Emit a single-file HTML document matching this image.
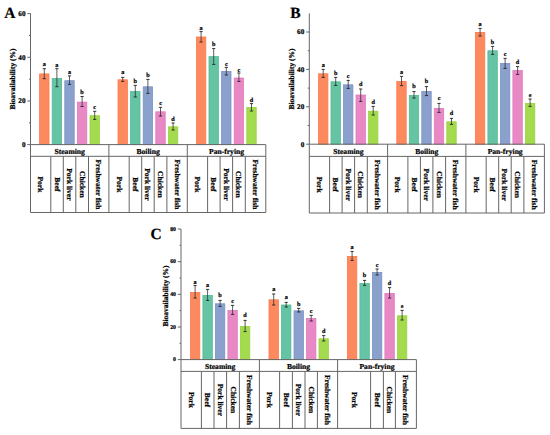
<!DOCTYPE html>
<html><head><meta charset="utf-8"><style>
html,body{margin:0;padding:0;background:#fff;}
body{width:550px;height:435px;overflow:hidden;}
svg{display:block;}
text{font-family:"Liberation Serif", serif;font-weight:bold;fill:#000;stroke:#000;stroke-width:0.22px;text-rendering:geometricPrecision;}
</style></head><body>
<svg width="550" height="435" viewBox="0 0 550 435">
<rect width="550" height="435" fill="#fff"/>
<text x="9.8" y="13.2" font-size="15.5" text-anchor="middle" dominant-baseline="central">A</text>
<line x1="30.5" y1="13.6" x2="30.5" y2="144.6" stroke="#666" stroke-width="1"/>
<line x1="27.3" y1="13.6" x2="30.5" y2="13.6" stroke="#666" stroke-width="1"/>
<text x="25.5" y="14" font-size="7.2" text-anchor="end" dominant-baseline="central">60</text>
<line x1="27.3" y1="57.3" x2="30.5" y2="57.3" stroke="#666" stroke-width="1"/>
<text x="25.5" y="57.7" font-size="7.2" text-anchor="end" dominant-baseline="central">40</text>
<line x1="27.3" y1="101" x2="30.5" y2="101" stroke="#666" stroke-width="1"/>
<text x="25.5" y="101.4" font-size="7.2" text-anchor="end" dominant-baseline="central">20</text>
<line x1="27.3" y1="144.6" x2="30.5" y2="144.6" stroke="#666" stroke-width="1"/>
<text x="25.5" y="145" font-size="7.2" text-anchor="end" dominant-baseline="central">0</text>
<line x1="29" y1="35.45" x2="30.5" y2="35.45" stroke="#666" stroke-width="1"/>
<line x1="29" y1="79.15" x2="30.5" y2="79.15" stroke="#666" stroke-width="1"/>
<line x1="29" y1="122.8" x2="30.5" y2="122.8" stroke="#666" stroke-width="1"/>
<text x="12.5" y="79" font-size="7.5" text-anchor="middle" dominant-baseline="central" transform="rotate(-90 12.5 79)">Bioavailability (%)</text>
<rect x="39.6" y="73.9" width="9.4" height="70.7" fill="#FD8A5F" stroke="#FF7A4C" stroke-width="0.8"/>
<line x1="44.3" y1="68.7" x2="44.3" y2="78.7" stroke="#333" stroke-width="0.8"/>
<line x1="42.7" y1="68.7" x2="45.9" y2="68.7" stroke="#222" stroke-width="0.9"/>
<line x1="42.7" y1="78.7" x2="45.9" y2="78.7" stroke="#222" stroke-width="0.9"/>
<text x="44.3" y="64.7" font-size="6.2" text-anchor="middle" dominant-baseline="central">a</text>
<rect x="52.2" y="78.4" width="9.4" height="66.2" fill="#64C4A4" stroke="#52BC93" stroke-width="0.8"/>
<line x1="56.9" y1="68.7" x2="56.9" y2="86.7" stroke="#333" stroke-width="0.8"/>
<line x1="55.3" y1="68.7" x2="58.5" y2="68.7" stroke="#222" stroke-width="0.9"/>
<line x1="55.3" y1="86.7" x2="58.5" y2="86.7" stroke="#222" stroke-width="0.9"/>
<text x="56.9" y="65.5" font-size="6.2" text-anchor="middle" dominant-baseline="central">a</text>
<rect x="64.8" y="80.7" width="9.4" height="63.9" fill="#8AA0CD" stroke="#7C92C6" stroke-width="0.8"/>
<line x1="69.5" y1="75.9" x2="69.5" y2="84.4" stroke="#333" stroke-width="0.8"/>
<line x1="67.9" y1="75.9" x2="71.1" y2="75.9" stroke="#222" stroke-width="0.9"/>
<line x1="67.9" y1="84.4" x2="71.1" y2="84.4" stroke="#222" stroke-width="0.9"/>
<text x="69.5" y="72.4" font-size="6.2" text-anchor="middle" dominant-baseline="central">a</text>
<rect x="77.4" y="102.1" width="9.4" height="42.5" fill="#E888C5" stroke="#E27BBD" stroke-width="0.8"/>
<line x1="82.1" y1="96.5" x2="82.1" y2="106.5" stroke="#333" stroke-width="0.8"/>
<line x1="80.5" y1="96.5" x2="83.7" y2="96.5" stroke="#222" stroke-width="0.9"/>
<line x1="80.5" y1="106.5" x2="83.7" y2="106.5" stroke="#222" stroke-width="0.9"/>
<text x="82.1" y="92.8" font-size="6.2" text-anchor="middle" dominant-baseline="central">b</text>
<rect x="90" y="115.7" width="9.4" height="28.9" fill="#A4DA4E" stroke="#9AD341" stroke-width="0.8"/>
<line x1="94.7" y1="111.3" x2="94.7" y2="119.4" stroke="#333" stroke-width="0.8"/>
<line x1="93.1" y1="111.3" x2="96.3" y2="111.3" stroke="#222" stroke-width="0.9"/>
<line x1="93.1" y1="119.4" x2="96.3" y2="119.4" stroke="#222" stroke-width="0.9"/>
<text x="94.7" y="107.8" font-size="6.2" text-anchor="middle" dominant-baseline="central">c</text>
<rect x="118" y="79.8" width="9.4" height="64.8" fill="#FD8A5F" stroke="#FF7A4C" stroke-width="0.8"/>
<line x1="122.7" y1="77.4" x2="122.7" y2="81.4" stroke="#333" stroke-width="0.8"/>
<line x1="121.1" y1="77.4" x2="124.3" y2="77.4" stroke="#222" stroke-width="0.9"/>
<line x1="121.1" y1="81.4" x2="124.3" y2="81.4" stroke="#222" stroke-width="0.9"/>
<text x="122.7" y="72.4" font-size="6.2" text-anchor="middle" dominant-baseline="central">a</text>
<rect x="130.6" y="91.4" width="9.4" height="53.2" fill="#64C4A4" stroke="#52BC93" stroke-width="0.8"/>
<line x1="135.3" y1="85.4" x2="135.3" y2="97" stroke="#333" stroke-width="0.8"/>
<line x1="133.7" y1="85.4" x2="136.9" y2="85.4" stroke="#222" stroke-width="0.9"/>
<line x1="133.7" y1="97" x2="136.9" y2="97" stroke="#222" stroke-width="0.9"/>
<text x="135.3" y="81" font-size="6.2" text-anchor="middle" dominant-baseline="central">b</text>
<rect x="143.2" y="86.8" width="9.4" height="57.8" fill="#8AA0CD" stroke="#7C92C6" stroke-width="0.8"/>
<line x1="147.9" y1="79.4" x2="147.9" y2="93.4" stroke="#333" stroke-width="0.8"/>
<line x1="146.3" y1="79.4" x2="149.5" y2="79.4" stroke="#222" stroke-width="0.9"/>
<line x1="146.3" y1="93.4" x2="149.5" y2="93.4" stroke="#222" stroke-width="0.9"/>
<text x="147.9" y="75" font-size="6.2" text-anchor="middle" dominant-baseline="central">b</text>
<rect x="155.8" y="111.8" width="9.4" height="32.8" fill="#E888C5" stroke="#E27BBD" stroke-width="0.8"/>
<line x1="160.5" y1="107.4" x2="160.5" y2="116" stroke="#333" stroke-width="0.8"/>
<line x1="158.9" y1="107.4" x2="162.1" y2="107.4" stroke="#222" stroke-width="0.9"/>
<line x1="158.9" y1="116" x2="162.1" y2="116" stroke="#222" stroke-width="0.9"/>
<text x="160.5" y="103.4" font-size="6.2" text-anchor="middle" dominant-baseline="central">c</text>
<rect x="168.4" y="126.8" width="9.4" height="17.8" fill="#A4DA4E" stroke="#9AD341" stroke-width="0.8"/>
<line x1="173.1" y1="123" x2="173.1" y2="130" stroke="#333" stroke-width="0.8"/>
<line x1="171.5" y1="123" x2="174.7" y2="123" stroke="#222" stroke-width="0.9"/>
<line x1="171.5" y1="130" x2="174.7" y2="130" stroke="#222" stroke-width="0.9"/>
<text x="173.1" y="119.4" font-size="6.2" text-anchor="middle" dominant-baseline="central">d</text>
<rect x="196.4" y="37" width="9.4" height="107.6" fill="#FD8A5F" stroke="#FF7A4C" stroke-width="0.8"/>
<line x1="201.1" y1="31.6" x2="201.1" y2="42" stroke="#333" stroke-width="0.8"/>
<line x1="199.5" y1="31.6" x2="202.7" y2="31.6" stroke="#222" stroke-width="0.9"/>
<line x1="199.5" y1="42" x2="202.7" y2="42" stroke="#222" stroke-width="0.9"/>
<text x="201.1" y="28" font-size="6.2" text-anchor="middle" dominant-baseline="central">a</text>
<rect x="209" y="56.6" width="9.4" height="88" fill="#64C4A4" stroke="#52BC93" stroke-width="0.8"/>
<line x1="213.7" y1="48.6" x2="213.7" y2="64.4" stroke="#333" stroke-width="0.8"/>
<line x1="212.1" y1="48.6" x2="215.3" y2="48.6" stroke="#222" stroke-width="0.9"/>
<line x1="212.1" y1="64.4" x2="215.3" y2="64.4" stroke="#222" stroke-width="0.9"/>
<text x="213.7" y="44" font-size="6.2" text-anchor="middle" dominant-baseline="central">b</text>
<rect x="221.6" y="71.4" width="9.4" height="73.2" fill="#8AA0CD" stroke="#7C92C6" stroke-width="0.8"/>
<line x1="226.3" y1="67.4" x2="226.3" y2="75" stroke="#333" stroke-width="0.8"/>
<line x1="224.7" y1="67.4" x2="227.9" y2="67.4" stroke="#222" stroke-width="0.9"/>
<line x1="224.7" y1="75" x2="227.9" y2="75" stroke="#222" stroke-width="0.9"/>
<text x="226.3" y="64" font-size="6.2" text-anchor="middle" dominant-baseline="central">c</text>
<rect x="234.2" y="78" width="9.4" height="66.6" fill="#E888C5" stroke="#E27BBD" stroke-width="0.8"/>
<line x1="238.9" y1="73" x2="238.9" y2="81.4" stroke="#333" stroke-width="0.8"/>
<line x1="237.3" y1="73" x2="240.5" y2="73" stroke="#222" stroke-width="0.9"/>
<line x1="237.3" y1="81.4" x2="240.5" y2="81.4" stroke="#222" stroke-width="0.9"/>
<text x="238.9" y="70" font-size="6.2" text-anchor="middle" dominant-baseline="central">c</text>
<rect x="246.8" y="107.4" width="9.4" height="37.2" fill="#A4DA4E" stroke="#9AD341" stroke-width="0.8"/>
<line x1="251.5" y1="103.6" x2="251.5" y2="111" stroke="#333" stroke-width="0.8"/>
<line x1="249.9" y1="103.6" x2="253.1" y2="103.6" stroke="#222" stroke-width="0.9"/>
<line x1="249.9" y1="111" x2="253.1" y2="111" stroke="#222" stroke-width="0.9"/>
<text x="251.5" y="100" font-size="6.2" text-anchor="middle" dominant-baseline="central">d</text>
<line x1="30.5" y1="144.6" x2="265.8" y2="144.6" stroke="#666" stroke-width="1"/>
<line x1="30.5" y1="156.3" x2="265.8" y2="156.3" stroke="#666" stroke-width="1"/>
<line x1="30.5" y1="212.5" x2="265.8" y2="212.5" stroke="#666" stroke-width="1"/>
<line x1="30.5" y1="144.6" x2="30.5" y2="212.5" stroke="#666" stroke-width="1"/>
<line x1="108.9" y1="144.6" x2="108.9" y2="212.5" stroke="#666" stroke-width="1"/>
<line x1="187.3" y1="144.6" x2="187.3" y2="212.5" stroke="#666" stroke-width="1"/>
<line x1="265.8" y1="144.6" x2="265.8" y2="212.5" stroke="#666" stroke-width="1"/>
<text x="69.7" y="151.15" font-size="7.6" text-anchor="middle" dominant-baseline="central">Steaming</text>
<line x1="50.8" y1="156.3" x2="50.8" y2="212.5" stroke="#666" stroke-width="1"/>
<line x1="63.3" y1="156.3" x2="63.3" y2="212.5" stroke="#666" stroke-width="1"/>
<line x1="75.8" y1="156.3" x2="75.8" y2="212.5" stroke="#666" stroke-width="1"/>
<line x1="88.5" y1="156.3" x2="88.5" y2="212.5" stroke="#666" stroke-width="1"/>
<text x="40.65" y="184.4" font-size="7.5" text-anchor="middle" dominant-baseline="central" transform="rotate(90 40.65 184.4)">Pork</text>
<text x="57.05" y="184.4" font-size="7.5" text-anchor="middle" dominant-baseline="central" transform="rotate(90 57.05 184.4)">Beef</text>
<text x="69.55" y="184.4" font-size="7.5" text-anchor="middle" dominant-baseline="central" transform="rotate(90 69.55 184.4)">Pork liver</text>
<text x="82.15" y="184.4" font-size="7.5" text-anchor="middle" dominant-baseline="central" transform="rotate(90 82.15 184.4)">Chicken</text>
<text x="98.7" y="184.4" font-size="7.5" text-anchor="middle" dominant-baseline="central" transform="rotate(90 98.7 184.4)">Freshwater fish</text>
<text x="148.1" y="151.15" font-size="7.6" text-anchor="middle" dominant-baseline="central">Boiling</text>
<line x1="129.2" y1="156.3" x2="129.2" y2="212.5" stroke="#666" stroke-width="1"/>
<line x1="141.7" y1="156.3" x2="141.7" y2="212.5" stroke="#666" stroke-width="1"/>
<line x1="154.2" y1="156.3" x2="154.2" y2="212.5" stroke="#666" stroke-width="1"/>
<line x1="166.9" y1="156.3" x2="166.9" y2="212.5" stroke="#666" stroke-width="1"/>
<text x="119.05" y="184.4" font-size="7.5" text-anchor="middle" dominant-baseline="central" transform="rotate(90 119.05 184.4)">Pork</text>
<text x="135.45" y="184.4" font-size="7.5" text-anchor="middle" dominant-baseline="central" transform="rotate(90 135.45 184.4)">Beef</text>
<text x="147.95" y="184.4" font-size="7.5" text-anchor="middle" dominant-baseline="central" transform="rotate(90 147.95 184.4)">Pork liver</text>
<text x="160.55" y="184.4" font-size="7.5" text-anchor="middle" dominant-baseline="central" transform="rotate(90 160.55 184.4)">Chicken</text>
<text x="177.1" y="184.4" font-size="7.5" text-anchor="middle" dominant-baseline="central" transform="rotate(90 177.1 184.4)">Freshwater fish</text>
<text x="226.55" y="151.15" font-size="7.6" text-anchor="middle" dominant-baseline="central">Pan-frying</text>
<line x1="207.6" y1="156.3" x2="207.6" y2="212.5" stroke="#666" stroke-width="1"/>
<line x1="220.1" y1="156.3" x2="220.1" y2="212.5" stroke="#666" stroke-width="1"/>
<line x1="232.6" y1="156.3" x2="232.6" y2="212.5" stroke="#666" stroke-width="1"/>
<line x1="245.3" y1="156.3" x2="245.3" y2="212.5" stroke="#666" stroke-width="1"/>
<text x="197.45" y="184.4" font-size="7.5" text-anchor="middle" dominant-baseline="central" transform="rotate(90 197.45 184.4)">Pork</text>
<text x="213.85" y="184.4" font-size="7.5" text-anchor="middle" dominant-baseline="central" transform="rotate(90 213.85 184.4)">Beef</text>
<text x="226.35" y="184.4" font-size="7.5" text-anchor="middle" dominant-baseline="central" transform="rotate(90 226.35 184.4)">Pork liver</text>
<text x="238.95" y="184.4" font-size="7.5" text-anchor="middle" dominant-baseline="central" transform="rotate(90 238.95 184.4)">Chicken</text>
<text x="255.55" y="184.4" font-size="7.5" text-anchor="middle" dominant-baseline="central" transform="rotate(90 255.55 184.4)">Freshwater fish</text>
<text x="295.5" y="13.2" font-size="15.5" text-anchor="middle" dominant-baseline="central">B</text>
<line x1="309.3" y1="13.4" x2="309.3" y2="144.2" stroke="#666" stroke-width="1"/>
<line x1="306.1" y1="32" x2="309.3" y2="32" stroke="#666" stroke-width="1"/>
<text x="304.3" y="32.4" font-size="7.2" text-anchor="end" dominant-baseline="central">60</text>
<line x1="306.1" y1="69.4" x2="309.3" y2="69.4" stroke="#666" stroke-width="1"/>
<text x="304.3" y="69.8" font-size="7.2" text-anchor="end" dominant-baseline="central">40</text>
<line x1="306.1" y1="106.8" x2="309.3" y2="106.8" stroke="#666" stroke-width="1"/>
<text x="304.3" y="107.2" font-size="7.2" text-anchor="end" dominant-baseline="central">20</text>
<line x1="306.1" y1="144.2" x2="309.3" y2="144.2" stroke="#666" stroke-width="1"/>
<text x="304.3" y="144.6" font-size="7.2" text-anchor="end" dominant-baseline="central">0</text>
<line x1="307.8" y1="50.7" x2="309.3" y2="50.7" stroke="#666" stroke-width="1"/>
<line x1="307.8" y1="88.1" x2="309.3" y2="88.1" stroke="#666" stroke-width="1"/>
<line x1="307.8" y1="125.5" x2="309.3" y2="125.5" stroke="#666" stroke-width="1"/>
<text x="291.8" y="79" font-size="7.5" text-anchor="middle" dominant-baseline="central" transform="rotate(-90 291.8 79)">Bioavailability (%)</text>
<rect x="318.5" y="73.8" width="9.4" height="70.4" fill="#FD8A5F" stroke="#FF7A4C" stroke-width="0.8"/>
<line x1="323.2" y1="69.4" x2="323.2" y2="77.4" stroke="#333" stroke-width="0.8"/>
<line x1="321.6" y1="69.4" x2="324.8" y2="69.4" stroke="#222" stroke-width="0.9"/>
<line x1="321.6" y1="77.4" x2="324.8" y2="77.4" stroke="#222" stroke-width="0.9"/>
<text x="323.2" y="65" font-size="6.2" text-anchor="middle" dominant-baseline="central">a</text>
<rect x="331" y="81.8" width="9.4" height="62.4" fill="#64C4A4" stroke="#52BC93" stroke-width="0.8"/>
<line x1="335.7" y1="77.4" x2="335.7" y2="85.4" stroke="#333" stroke-width="0.8"/>
<line x1="334.1" y1="77.4" x2="337.3" y2="77.4" stroke="#222" stroke-width="0.9"/>
<line x1="334.1" y1="85.4" x2="337.3" y2="85.4" stroke="#222" stroke-width="0.9"/>
<text x="335.7" y="73.6" font-size="6.2" text-anchor="middle" dominant-baseline="central">b</text>
<rect x="343.5" y="84.8" width="9.4" height="59.4" fill="#8AA0CD" stroke="#7C92C6" stroke-width="0.8"/>
<line x1="348.2" y1="80.4" x2="348.2" y2="88.4" stroke="#333" stroke-width="0.8"/>
<line x1="346.6" y1="80.4" x2="349.8" y2="80.4" stroke="#222" stroke-width="0.9"/>
<line x1="346.6" y1="88.4" x2="349.8" y2="88.4" stroke="#222" stroke-width="0.9"/>
<text x="348.2" y="76" font-size="6.2" text-anchor="middle" dominant-baseline="central">c</text>
<rect x="356" y="95" width="9.4" height="49.2" fill="#E888C5" stroke="#E27BBD" stroke-width="0.8"/>
<line x1="360.7" y1="89" x2="360.7" y2="101.4" stroke="#333" stroke-width="0.8"/>
<line x1="359.1" y1="89" x2="362.3" y2="89" stroke="#222" stroke-width="0.9"/>
<line x1="359.1" y1="101.4" x2="362.3" y2="101.4" stroke="#222" stroke-width="0.9"/>
<text x="360.7" y="84.4" font-size="6.2" text-anchor="middle" dominant-baseline="central">d</text>
<rect x="368.5" y="111.2" width="9.4" height="33" fill="#A4DA4E" stroke="#9AD341" stroke-width="0.8"/>
<line x1="373.2" y1="106.4" x2="373.2" y2="115" stroke="#333" stroke-width="0.8"/>
<line x1="371.6" y1="106.4" x2="374.8" y2="106.4" stroke="#222" stroke-width="0.9"/>
<line x1="371.6" y1="115" x2="374.8" y2="115" stroke="#222" stroke-width="0.9"/>
<text x="373.2" y="102" font-size="6.2" text-anchor="middle" dominant-baseline="central">d</text>
<rect x="396.8" y="81.4" width="9.4" height="62.8" fill="#FD8A5F" stroke="#FF7A4C" stroke-width="0.8"/>
<line x1="401.5" y1="76.4" x2="401.5" y2="85.6" stroke="#333" stroke-width="0.8"/>
<line x1="399.9" y1="76.4" x2="403.1" y2="76.4" stroke="#222" stroke-width="0.9"/>
<line x1="399.9" y1="85.6" x2="403.1" y2="85.6" stroke="#222" stroke-width="0.9"/>
<text x="401.5" y="72" font-size="6.2" text-anchor="middle" dominant-baseline="central">a</text>
<rect x="409.3" y="95.4" width="9.4" height="48.8" fill="#64C4A4" stroke="#52BC93" stroke-width="0.8"/>
<line x1="414" y1="91.6" x2="414" y2="98" stroke="#333" stroke-width="0.8"/>
<line x1="412.4" y1="91.6" x2="415.6" y2="91.6" stroke="#222" stroke-width="0.9"/>
<line x1="412.4" y1="98" x2="415.6" y2="98" stroke="#222" stroke-width="0.9"/>
<text x="414" y="86" font-size="6.2" text-anchor="middle" dominant-baseline="central">b</text>
<rect x="421.8" y="91.4" width="9.4" height="52.8" fill="#8AA0CD" stroke="#7C92C6" stroke-width="0.8"/>
<line x1="426.5" y1="86.6" x2="426.5" y2="95.6" stroke="#333" stroke-width="0.8"/>
<line x1="424.9" y1="86.6" x2="428.1" y2="86.6" stroke="#222" stroke-width="0.9"/>
<line x1="424.9" y1="95.6" x2="428.1" y2="95.6" stroke="#222" stroke-width="0.9"/>
<text x="426.5" y="81.4" font-size="6.2" text-anchor="middle" dominant-baseline="central">b</text>
<rect x="434.3" y="108.4" width="9.4" height="35.8" fill="#E888C5" stroke="#E27BBD" stroke-width="0.8"/>
<line x1="439" y1="103.4" x2="439" y2="112.4" stroke="#333" stroke-width="0.8"/>
<line x1="437.4" y1="103.4" x2="440.6" y2="103.4" stroke="#222" stroke-width="0.9"/>
<line x1="437.4" y1="112.4" x2="440.6" y2="112.4" stroke="#222" stroke-width="0.9"/>
<text x="439" y="98.6" font-size="6.2" text-anchor="middle" dominant-baseline="central">c</text>
<rect x="446.8" y="121.8" width="9.4" height="22.4" fill="#A4DA4E" stroke="#9AD341" stroke-width="0.8"/>
<line x1="451.5" y1="118.4" x2="451.5" y2="124.4" stroke="#333" stroke-width="0.8"/>
<line x1="449.9" y1="118.4" x2="453.1" y2="118.4" stroke="#222" stroke-width="0.9"/>
<line x1="449.9" y1="124.4" x2="453.1" y2="124.4" stroke="#222" stroke-width="0.9"/>
<text x="451.5" y="113.6" font-size="6.2" text-anchor="middle" dominant-baseline="central">d</text>
<rect x="475.4" y="32.4" width="9.4" height="111.8" fill="#FD8A5F" stroke="#FF7A4C" stroke-width="0.8"/>
<line x1="480.1" y1="28.4" x2="480.1" y2="36" stroke="#333" stroke-width="0.8"/>
<line x1="478.5" y1="28.4" x2="481.7" y2="28.4" stroke="#222" stroke-width="0.9"/>
<line x1="478.5" y1="36" x2="481.7" y2="36" stroke="#222" stroke-width="0.9"/>
<text x="480.1" y="24" font-size="6.2" text-anchor="middle" dominant-baseline="central">a</text>
<rect x="487.9" y="50.8" width="9.4" height="93.4" fill="#64C4A4" stroke="#52BC93" stroke-width="0.8"/>
<line x1="492.6" y1="46.4" x2="492.6" y2="54.4" stroke="#333" stroke-width="0.8"/>
<line x1="491" y1="46.4" x2="494.2" y2="46.4" stroke="#222" stroke-width="0.9"/>
<line x1="491" y1="54.4" x2="494.2" y2="54.4" stroke="#222" stroke-width="0.9"/>
<text x="492.6" y="42" font-size="6.2" text-anchor="middle" dominant-baseline="central">b</text>
<rect x="500.4" y="63.4" width="9.4" height="80.8" fill="#8AA0CD" stroke="#7C92C6" stroke-width="0.8"/>
<line x1="505.1" y1="58.4" x2="505.1" y2="68.4" stroke="#333" stroke-width="0.8"/>
<line x1="503.5" y1="58.4" x2="506.7" y2="58.4" stroke="#222" stroke-width="0.9"/>
<line x1="503.5" y1="68.4" x2="506.7" y2="68.4" stroke="#222" stroke-width="0.9"/>
<text x="505.1" y="54.4" font-size="6.2" text-anchor="middle" dominant-baseline="central">c</text>
<rect x="512.9" y="70.4" width="9.4" height="73.8" fill="#E888C5" stroke="#E27BBD" stroke-width="0.8"/>
<line x1="517.6" y1="66.6" x2="517.6" y2="74.4" stroke="#333" stroke-width="0.8"/>
<line x1="516" y1="66.6" x2="519.2" y2="66.6" stroke="#222" stroke-width="0.9"/>
<line x1="516" y1="74.4" x2="519.2" y2="74.4" stroke="#222" stroke-width="0.9"/>
<text x="517.6" y="62" font-size="6.2" text-anchor="middle" dominant-baseline="central">d</text>
<rect x="525.4" y="103.4" width="9.4" height="40.8" fill="#A4DA4E" stroke="#9AD341" stroke-width="0.8"/>
<line x1="530.1" y1="99" x2="530.1" y2="106.4" stroke="#333" stroke-width="0.8"/>
<line x1="528.5" y1="99" x2="531.7" y2="99" stroke="#222" stroke-width="0.9"/>
<line x1="528.5" y1="106.4" x2="531.7" y2="106.4" stroke="#222" stroke-width="0.9"/>
<text x="530.1" y="95" font-size="6.2" text-anchor="middle" dominant-baseline="central">e</text>
<line x1="309.3" y1="144.2" x2="544.4" y2="144.2" stroke="#666" stroke-width="1"/>
<line x1="309.3" y1="156.4" x2="544.4" y2="156.4" stroke="#666" stroke-width="1"/>
<line x1="309.3" y1="213" x2="544.4" y2="213" stroke="#666" stroke-width="1"/>
<line x1="309.3" y1="144.2" x2="309.3" y2="213" stroke="#666" stroke-width="1"/>
<line x1="387.6" y1="144.2" x2="387.6" y2="213" stroke="#666" stroke-width="1"/>
<line x1="465.9" y1="144.2" x2="465.9" y2="213" stroke="#666" stroke-width="1"/>
<line x1="544.4" y1="144.2" x2="544.4" y2="213" stroke="#666" stroke-width="1"/>
<text x="348.45" y="151" font-size="7.6" text-anchor="middle" dominant-baseline="central">Steaming</text>
<line x1="329.6" y1="156.4" x2="329.6" y2="213" stroke="#666" stroke-width="1"/>
<line x1="342.1" y1="156.4" x2="342.1" y2="213" stroke="#666" stroke-width="1"/>
<line x1="354.6" y1="156.4" x2="354.6" y2="213" stroke="#666" stroke-width="1"/>
<line x1="367.3" y1="156.4" x2="367.3" y2="213" stroke="#666" stroke-width="1"/>
<text x="319.45" y="184.7" font-size="7.5" text-anchor="middle" dominant-baseline="central" transform="rotate(90 319.45 184.7)">Pork</text>
<text x="335.85" y="184.7" font-size="7.5" text-anchor="middle" dominant-baseline="central" transform="rotate(90 335.85 184.7)">Beef</text>
<text x="348.35" y="184.7" font-size="7.5" text-anchor="middle" dominant-baseline="central" transform="rotate(90 348.35 184.7)">Pork liver</text>
<text x="360.95" y="184.7" font-size="7.5" text-anchor="middle" dominant-baseline="central" transform="rotate(90 360.95 184.7)">Chicken</text>
<text x="377.45" y="184.7" font-size="7.5" text-anchor="middle" dominant-baseline="central" transform="rotate(90 377.45 184.7)">Freshwater fish</text>
<text x="426.75" y="151" font-size="7.6" text-anchor="middle" dominant-baseline="central">Boiling</text>
<line x1="407.9" y1="156.4" x2="407.9" y2="213" stroke="#666" stroke-width="1"/>
<line x1="420.4" y1="156.4" x2="420.4" y2="213" stroke="#666" stroke-width="1"/>
<line x1="432.9" y1="156.4" x2="432.9" y2="213" stroke="#666" stroke-width="1"/>
<line x1="445.6" y1="156.4" x2="445.6" y2="213" stroke="#666" stroke-width="1"/>
<text x="397.75" y="184.7" font-size="7.5" text-anchor="middle" dominant-baseline="central" transform="rotate(90 397.75 184.7)">Pork</text>
<text x="414.15" y="184.7" font-size="7.5" text-anchor="middle" dominant-baseline="central" transform="rotate(90 414.15 184.7)">Beef</text>
<text x="426.65" y="184.7" font-size="7.5" text-anchor="middle" dominant-baseline="central" transform="rotate(90 426.65 184.7)">Pork liver</text>
<text x="439.25" y="184.7" font-size="7.5" text-anchor="middle" dominant-baseline="central" transform="rotate(90 439.25 184.7)">Chicken</text>
<text x="455.75" y="184.7" font-size="7.5" text-anchor="middle" dominant-baseline="central" transform="rotate(90 455.75 184.7)">Freshwater fish</text>
<text x="505.15" y="151" font-size="7.6" text-anchor="middle" dominant-baseline="central">Pan-frying</text>
<line x1="486.2" y1="156.4" x2="486.2" y2="213" stroke="#666" stroke-width="1"/>
<line x1="498.7" y1="156.4" x2="498.7" y2="213" stroke="#666" stroke-width="1"/>
<line x1="511.2" y1="156.4" x2="511.2" y2="213" stroke="#666" stroke-width="1"/>
<line x1="523.9" y1="156.4" x2="523.9" y2="213" stroke="#666" stroke-width="1"/>
<text x="476.05" y="184.7" font-size="7.5" text-anchor="middle" dominant-baseline="central" transform="rotate(90 476.05 184.7)">Pork</text>
<text x="492.45" y="184.7" font-size="7.5" text-anchor="middle" dominant-baseline="central" transform="rotate(90 492.45 184.7)">Beef</text>
<text x="504.95" y="184.7" font-size="7.5" text-anchor="middle" dominant-baseline="central" transform="rotate(90 504.95 184.7)">Pork liver</text>
<text x="517.55" y="184.7" font-size="7.5" text-anchor="middle" dominant-baseline="central" transform="rotate(90 517.55 184.7)">Chicken</text>
<text x="534.15" y="184.7" font-size="7.5" text-anchor="middle" dominant-baseline="central" transform="rotate(90 534.15 184.7)">Freshwater fish</text>
<text x="156.2" y="234.7" font-size="15.5" text-anchor="middle" dominant-baseline="central">C</text>
<line x1="181" y1="229" x2="181" y2="359.6" stroke="#666" stroke-width="1"/>
<line x1="177.8" y1="229" x2="181" y2="229" stroke="#666" stroke-width="1"/>
<text x="176" y="229.7" font-size="5.8" text-anchor="end" dominant-baseline="central">80</text>
<line x1="177.8" y1="261.7" x2="181" y2="261.7" stroke="#666" stroke-width="1"/>
<text x="176" y="262.4" font-size="5.8" text-anchor="end" dominant-baseline="central">60</text>
<line x1="177.8" y1="294.3" x2="181" y2="294.3" stroke="#666" stroke-width="1"/>
<text x="176" y="295" font-size="5.8" text-anchor="end" dominant-baseline="central">40</text>
<line x1="177.8" y1="327" x2="181" y2="327" stroke="#666" stroke-width="1"/>
<text x="176" y="327.7" font-size="5.8" text-anchor="end" dominant-baseline="central">20</text>
<line x1="177.8" y1="359.6" x2="181" y2="359.6" stroke="#666" stroke-width="1"/>
<text x="176" y="360.3" font-size="5.8" text-anchor="end" dominant-baseline="central">0</text>
<line x1="179.5" y1="245.3" x2="181" y2="245.3" stroke="#666" stroke-width="1"/>
<line x1="179.5" y1="278" x2="181" y2="278" stroke="#666" stroke-width="1"/>
<line x1="179.5" y1="310.6" x2="181" y2="310.6" stroke="#666" stroke-width="1"/>
<line x1="179.5" y1="343.3" x2="181" y2="343.3" stroke="#666" stroke-width="1"/>
<text x="165" y="296" font-size="7.5" text-anchor="middle" dominant-baseline="central" transform="rotate(-90 165 296)">Bioavailability (%)</text>
<rect x="190.4" y="292.4" width="9.4" height="67.2" fill="#FD8A5F" stroke="#FF7A4C" stroke-width="0.8"/>
<line x1="195.1" y1="285.6" x2="195.1" y2="298" stroke="#333" stroke-width="0.8"/>
<line x1="193.5" y1="285.6" x2="196.7" y2="285.6" stroke="#222" stroke-width="0.9"/>
<line x1="193.5" y1="298" x2="196.7" y2="298" stroke="#222" stroke-width="0.9"/>
<text x="195.1" y="282" font-size="6.2" text-anchor="middle" dominant-baseline="central">a</text>
<rect x="202.9" y="295.4" width="9.4" height="64.2" fill="#64C4A4" stroke="#52BC93" stroke-width="0.8"/>
<line x1="207.6" y1="289.4" x2="207.6" y2="300.4" stroke="#333" stroke-width="0.8"/>
<line x1="206" y1="289.4" x2="209.2" y2="289.4" stroke="#222" stroke-width="0.9"/>
<line x1="206" y1="300.4" x2="209.2" y2="300.4" stroke="#222" stroke-width="0.9"/>
<text x="207.6" y="285" font-size="6.2" text-anchor="middle" dominant-baseline="central">a</text>
<rect x="215.4" y="303.8" width="9.4" height="55.8" fill="#8AA0CD" stroke="#7C92C6" stroke-width="0.8"/>
<line x1="220.1" y1="300.4" x2="220.1" y2="306.4" stroke="#333" stroke-width="0.8"/>
<line x1="218.5" y1="300.4" x2="221.7" y2="300.4" stroke="#222" stroke-width="0.9"/>
<line x1="218.5" y1="306.4" x2="221.7" y2="306.4" stroke="#222" stroke-width="0.9"/>
<text x="220.1" y="295.8" font-size="6.2" text-anchor="middle" dominant-baseline="central">b</text>
<rect x="227.9" y="310.4" width="9.4" height="49.2" fill="#E888C5" stroke="#E27BBD" stroke-width="0.8"/>
<line x1="232.6" y1="305.4" x2="232.6" y2="314.4" stroke="#333" stroke-width="0.8"/>
<line x1="231" y1="305.4" x2="234.2" y2="305.4" stroke="#222" stroke-width="0.9"/>
<line x1="231" y1="314.4" x2="234.2" y2="314.4" stroke="#222" stroke-width="0.9"/>
<text x="232.6" y="301" font-size="6.2" text-anchor="middle" dominant-baseline="central">c</text>
<rect x="240.4" y="326.4" width="9.4" height="33.2" fill="#A4DA4E" stroke="#9AD341" stroke-width="0.8"/>
<line x1="245.1" y1="320.4" x2="245.1" y2="331.6" stroke="#333" stroke-width="0.8"/>
<line x1="243.5" y1="320.4" x2="246.7" y2="320.4" stroke="#222" stroke-width="0.9"/>
<line x1="243.5" y1="331.6" x2="246.7" y2="331.6" stroke="#222" stroke-width="0.9"/>
<text x="245.1" y="315.4" font-size="6.2" text-anchor="middle" dominant-baseline="central">d</text>
<rect x="269" y="299.8" width="9.4" height="59.8" fill="#FD8A5F" stroke="#FF7A4C" stroke-width="0.8"/>
<line x1="273.7" y1="294" x2="273.7" y2="305" stroke="#333" stroke-width="0.8"/>
<line x1="272.1" y1="294" x2="275.3" y2="294" stroke="#222" stroke-width="0.9"/>
<line x1="272.1" y1="305" x2="275.3" y2="305" stroke="#222" stroke-width="0.9"/>
<text x="273.7" y="289" font-size="6.2" text-anchor="middle" dominant-baseline="central">a</text>
<rect x="281.5" y="305" width="9.4" height="54.6" fill="#64C4A4" stroke="#52BC93" stroke-width="0.8"/>
<line x1="286.2" y1="302.4" x2="286.2" y2="307" stroke="#333" stroke-width="0.8"/>
<line x1="284.6" y1="302.4" x2="287.8" y2="302.4" stroke="#222" stroke-width="0.9"/>
<line x1="284.6" y1="307" x2="287.8" y2="307" stroke="#222" stroke-width="0.9"/>
<text x="286.2" y="297.4" font-size="6.2" text-anchor="middle" dominant-baseline="central">a</text>
<rect x="294" y="310.8" width="9.4" height="48.8" fill="#8AA0CD" stroke="#7C92C6" stroke-width="0.8"/>
<line x1="298.7" y1="308.4" x2="298.7" y2="312" stroke="#333" stroke-width="0.8"/>
<line x1="297.1" y1="308.4" x2="300.3" y2="308.4" stroke="#222" stroke-width="0.9"/>
<line x1="297.1" y1="312" x2="300.3" y2="312" stroke="#222" stroke-width="0.9"/>
<text x="298.7" y="304.4" font-size="6.2" text-anchor="middle" dominant-baseline="central">b</text>
<rect x="306.5" y="318.4" width="9.4" height="41.2" fill="#E888C5" stroke="#E27BBD" stroke-width="0.8"/>
<line x1="311.2" y1="315.4" x2="311.2" y2="321" stroke="#333" stroke-width="0.8"/>
<line x1="309.6" y1="315.4" x2="312.8" y2="315.4" stroke="#222" stroke-width="0.9"/>
<line x1="309.6" y1="321" x2="312.8" y2="321" stroke="#222" stroke-width="0.9"/>
<text x="311.2" y="311" font-size="6.2" text-anchor="middle" dominant-baseline="central">c</text>
<rect x="319" y="338.8" width="9.4" height="20.8" fill="#A4DA4E" stroke="#9AD341" stroke-width="0.8"/>
<line x1="323.7" y1="335.6" x2="323.7" y2="341" stroke="#333" stroke-width="0.8"/>
<line x1="322.1" y1="335.6" x2="325.3" y2="335.6" stroke="#222" stroke-width="0.9"/>
<line x1="322.1" y1="341" x2="325.3" y2="341" stroke="#222" stroke-width="0.9"/>
<text x="323.7" y="331" font-size="6.2" text-anchor="middle" dominant-baseline="central">d</text>
<rect x="347.4" y="256.4" width="9.4" height="103.2" fill="#FD8A5F" stroke="#FF7A4C" stroke-width="0.8"/>
<line x1="352.1" y1="251.4" x2="352.1" y2="260.4" stroke="#333" stroke-width="0.8"/>
<line x1="350.5" y1="251.4" x2="353.7" y2="251.4" stroke="#222" stroke-width="0.9"/>
<line x1="350.5" y1="260.4" x2="353.7" y2="260.4" stroke="#222" stroke-width="0.9"/>
<text x="352.1" y="247" font-size="6.2" text-anchor="middle" dominant-baseline="central">a</text>
<rect x="359.9" y="283.4" width="9.4" height="76.2" fill="#64C4A4" stroke="#52BC93" stroke-width="0.8"/>
<line x1="364.6" y1="280.4" x2="364.6" y2="285.4" stroke="#333" stroke-width="0.8"/>
<line x1="363" y1="280.4" x2="366.2" y2="280.4" stroke="#222" stroke-width="0.9"/>
<line x1="363" y1="285.4" x2="366.2" y2="285.4" stroke="#222" stroke-width="0.9"/>
<text x="364.6" y="275" font-size="6.2" text-anchor="middle" dominant-baseline="central">b</text>
<rect x="372.4" y="272.4" width="9.4" height="87.2" fill="#8AA0CD" stroke="#7C92C6" stroke-width="0.8"/>
<line x1="377.1" y1="269" x2="377.1" y2="275" stroke="#333" stroke-width="0.8"/>
<line x1="375.5" y1="269" x2="378.7" y2="269" stroke="#222" stroke-width="0.9"/>
<line x1="375.5" y1="275" x2="378.7" y2="275" stroke="#222" stroke-width="0.9"/>
<text x="377.1" y="265.4" font-size="6.2" text-anchor="middle" dominant-baseline="central">c</text>
<rect x="384.9" y="293.4" width="9.4" height="66.2" fill="#E888C5" stroke="#E27BBD" stroke-width="0.8"/>
<line x1="389.6" y1="287.6" x2="389.6" y2="298" stroke="#333" stroke-width="0.8"/>
<line x1="388" y1="287.6" x2="391.2" y2="287.6" stroke="#222" stroke-width="0.9"/>
<line x1="388" y1="298" x2="391.2" y2="298" stroke="#222" stroke-width="0.9"/>
<text x="389.6" y="283" font-size="6.2" text-anchor="middle" dominant-baseline="central">d</text>
<rect x="397.4" y="315.8" width="9.4" height="43.8" fill="#A4DA4E" stroke="#9AD341" stroke-width="0.8"/>
<line x1="402.1" y1="310.4" x2="402.1" y2="320" stroke="#333" stroke-width="0.8"/>
<line x1="400.5" y1="310.4" x2="403.7" y2="310.4" stroke="#222" stroke-width="0.9"/>
<line x1="400.5" y1="320" x2="403.7" y2="320" stroke="#222" stroke-width="0.9"/>
<text x="402.1" y="306" font-size="6.2" text-anchor="middle" dominant-baseline="central">e</text>
<line x1="181" y1="359.6" x2="416.4" y2="359.6" stroke="#666" stroke-width="1"/>
<line x1="181" y1="371.4" x2="416.4" y2="371.4" stroke="#666" stroke-width="1"/>
<line x1="181" y1="428.4" x2="416.4" y2="428.4" stroke="#666" stroke-width="1"/>
<line x1="181" y1="359.6" x2="181" y2="428.4" stroke="#666" stroke-width="1"/>
<line x1="259.4" y1="359.6" x2="259.4" y2="428.4" stroke="#666" stroke-width="1"/>
<line x1="337.6" y1="359.6" x2="337.6" y2="428.4" stroke="#666" stroke-width="1"/>
<line x1="416.4" y1="359.6" x2="416.4" y2="428.4" stroke="#666" stroke-width="1"/>
<text x="220.2" y="366.2" font-size="7.6" text-anchor="middle" dominant-baseline="central">Steaming</text>
<line x1="201.4" y1="371.4" x2="201.4" y2="428.4" stroke="#666" stroke-width="1"/>
<line x1="214" y1="371.4" x2="214" y2="428.4" stroke="#666" stroke-width="1"/>
<line x1="226.6" y1="371.4" x2="226.6" y2="428.4" stroke="#666" stroke-width="1"/>
<line x1="239.4" y1="371.4" x2="239.4" y2="428.4" stroke="#666" stroke-width="1"/>
<text x="191.2" y="399.9" font-size="7.5" text-anchor="middle" dominant-baseline="central" transform="rotate(90 191.2 399.9)">Pork</text>
<text x="207.7" y="399.9" font-size="7.5" text-anchor="middle" dominant-baseline="central" transform="rotate(90 207.7 399.9)">Beef</text>
<text x="220.3" y="399.9" font-size="7.5" text-anchor="middle" dominant-baseline="central" transform="rotate(90 220.3 399.9)">Pork liver</text>
<text x="233" y="399.9" font-size="7.5" text-anchor="middle" dominant-baseline="central" transform="rotate(90 233 399.9)">Chicken</text>
<text x="249.4" y="399.9" font-size="7.5" text-anchor="middle" dominant-baseline="central" transform="rotate(90 249.4 399.9)">Freshwater fish</text>
<text x="298.5" y="366.2" font-size="7.6" text-anchor="middle" dominant-baseline="central">Boiling</text>
<line x1="279.6" y1="371.4" x2="279.6" y2="428.4" stroke="#666" stroke-width="1"/>
<line x1="292.4" y1="371.4" x2="292.4" y2="428.4" stroke="#666" stroke-width="1"/>
<line x1="305" y1="371.4" x2="305" y2="428.4" stroke="#666" stroke-width="1"/>
<line x1="317.4" y1="371.4" x2="317.4" y2="428.4" stroke="#666" stroke-width="1"/>
<text x="269.5" y="399.9" font-size="7.5" text-anchor="middle" dominant-baseline="central" transform="rotate(90 269.5 399.9)">Pork</text>
<text x="286" y="399.9" font-size="7.5" text-anchor="middle" dominant-baseline="central" transform="rotate(90 286 399.9)">Beef</text>
<text x="298.7" y="399.9" font-size="7.5" text-anchor="middle" dominant-baseline="central" transform="rotate(90 298.7 399.9)">Pork liver</text>
<text x="311.2" y="399.9" font-size="7.5" text-anchor="middle" dominant-baseline="central" transform="rotate(90 311.2 399.9)">Chicken</text>
<text x="327.5" y="399.9" font-size="7.5" text-anchor="middle" dominant-baseline="central" transform="rotate(90 327.5 399.9)">Freshwater fish</text>
<text x="377" y="366.2" font-size="7.6" text-anchor="middle" dominant-baseline="central">Pan-frying</text>
<line x1="370.6" y1="371.4" x2="370.6" y2="428.4" stroke="#666" stroke-width="1"/>
<line x1="383.4" y1="371.4" x2="383.4" y2="428.4" stroke="#666" stroke-width="1"/>
<line x1="395.4" y1="371.4" x2="395.4" y2="428.4" stroke="#666" stroke-width="1"/>
<text x="354.1" y="399.9" font-size="7.5" text-anchor="middle" dominant-baseline="central" transform="rotate(90 354.1 399.9)">Pork</text>
<text x="377" y="399.9" font-size="7.5" text-anchor="middle" dominant-baseline="central" transform="rotate(90 377 399.9)">Beef</text>
<text x="389.4" y="399.9" font-size="7.5" text-anchor="middle" dominant-baseline="central" transform="rotate(90 389.4 399.9)">Chicken</text>
<text x="405.9" y="399.9" font-size="7.5" text-anchor="middle" dominant-baseline="central" transform="rotate(90 405.9 399.9)">Freshwater fish</text>
</svg>
</body></html>
